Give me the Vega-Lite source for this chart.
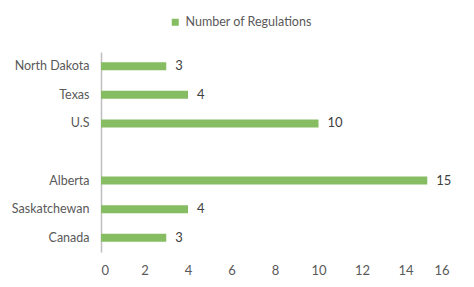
{
  "$schema": "https://vega.github.io/schema/vega-lite/v6.json",
  "width": 348,
  "height": 200,
  "autosize": {"type": "none"},
  "padding": {"left": 101, "top": 52, "right": 25, "bottom": 35},
  "background": "white",
  "config": {"view": {"stroke": null}, "font": "Lato"},
  "data": {
    "values": [
      {"region": "North Dakota", "count": 3},
      {"region": "Texas", "count": 4},
      {"region": "U.S", "count": 10},
      {"region": "Alberta", "count": 15},
      {"region": "Saskatchewan", "count": 4},
      {"region": "Canada", "count": 3}
    ]
  },
  "encoding": {
    "y": {
      "field": "region",
      "type": "nominal",
      "sort": null,
      "scale": {
        "domain": ["North Dakota", "Texas", "U.S", " ", "Alberta", "Saskatchewan", "Canada"],
        "paddingInner": 0.72,
        "paddingOuter": 0.36
      },
      "axis": {
        "title": null,
        "ticks": false,
        "domainColor": "#bfbfbf",
        "domainWidth": 1.5,
        "labelPadding": 12,
        "labelFontSize": 12.5,
        "labelColor": "#595959"
      }
    },
    "x": {
      "field": "count",
      "type": "quantitative",
      "scale": {"domain": [0, 16], "nice": false},
      "axis": {
        "title": null,
        "values": [0, 2, 4, 6, 8, 10, 12, 14, 16],
        "grid": false,
        "domain": false,
        "ticks": false,
        "labelPadding": 12,
        "labelFontSize": 13,
        "labelColor": "#595959"
      }
    }
  },
  "layer": [
    {
      "mark": {"type": "bar"},
      "encoding": {
        "color": {
          "datum": "Number of Regulations",
          "type": "nominal",
          "scale": {"range": ["#86bd62"]},
          "legend": {
            "title": null,
            "orient": "none",
            "legendX": 68,
            "legendY": -36,
            "symbolType": "square",
            "symbolSize": 49,
            "labelFontSize": 12.5,
            "labelColor": "#595959",
            "labelOffset": 4
          }
        }
      }
    },
    {
      "mark": {"type": "text", "align": "left", "dx": 9, "fontSize": 13, "color": "#404040"},
      "encoding": {"text": {"field": "count", "type": "quantitative"}}
    }
  ]
}
